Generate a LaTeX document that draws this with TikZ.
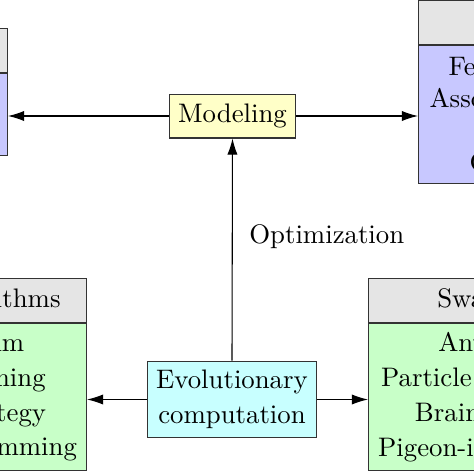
\documentclass[tikz,border=0pt]{standalone}
\usepackage{xcolor}
\definecolor{hdgray}{RGB}{229,229,229}
\definecolor{mdblue}{RGB}{200,200,255}
\definecolor{mdgreen}{RGB}{200,255,200}
\definecolor{mdyellow}{RGB}{255,255,200}
\definecolor{mdcyan}{RGB}{200,255,255}
\usepackage{tikz}
\usetikzlibrary{arrows.meta,positioning}
\tikzset{
  blk/.style={draw=black!80, rectangle, align=center, inner sep=3.33pt, font=\fontsize{10}{13}\selectfont},
  hdr/.style={blk, fill=hdgray, minimum height=16.4pt},
  lst/.style={blk, fill=mdgreen},
  arr/.style={-{Latex[length=6pt,width=3.8pt]}},
}

\begin{document}
\begin{tikzpicture}[x=0.3732pt, y=-0.3732pt]
  \useasboundingbox (0,0) rectangle (474,474);
  \clip (0,0) rectangle (474,474);

  \node[blk, fill=mdyellow, minimum height=16.4pt] (model) at (232.5,116) {Modeling};

  \node[blk, fill=mdblue, minimum width=100pt, minimum height=30.6pt, anchor=north east] (mlbody) at (8,73) {};
  \node[hdr, minimum width=100pt, above=0pt of mlbody] (mlhead) {};

  \node[blk, fill=mdblue, minimum width=96pt, minimum height=51.5pt, font=\fontsize{10}{12}\selectfont, anchor=north west] (dmbody) at (418,45) {Feature selection\\Association analysis\\Clustering\\Classification};
  \node[hdr, minimum width=96pt, above=0pt of dmbody] (dmhead) {Data mining};

  \node[blk, fill=mdcyan] (evo) at (232,399.5) {Evolutionary\\computation};

  \node[lst, minimum width=125.4pt, anchor=north east] (eabody) at (87,323) {Genetic algorithm\\Evolutionary learning\\Evolutionary strategy\\Evolutionary programming};
  \node[hdr, minimum width=125.4pt, above=0pt of eabody] (eahead) {Evolutionary algorithms};

  \node[lst, minimum width=133pt, anchor=north west] (sibody) at (368,323) {Ant colony system\\Particle swarm optimization\\Brain storm algorithm\\Pigeon-inspired optimization};
  \node[hdr, minimum width=133pt, above=0pt of sibody] (sihead) {Swarm intelligence};

  \draw[arr] (model.west) -- (model.west -| mlbody.east);
  \draw[arr] (model.east) -- (model.east -| dmbody.west);
  \draw[arr] (evo.north) -- node[right=1mm, pos=0.56] {Optimization} (model.south);
  \draw[arr] (evo.west) -- (evo.west -| eabody.east);
  \draw[arr] (evo.east) -- (evo.east -| sibody.west);
\end{tikzpicture}
\end{document}
